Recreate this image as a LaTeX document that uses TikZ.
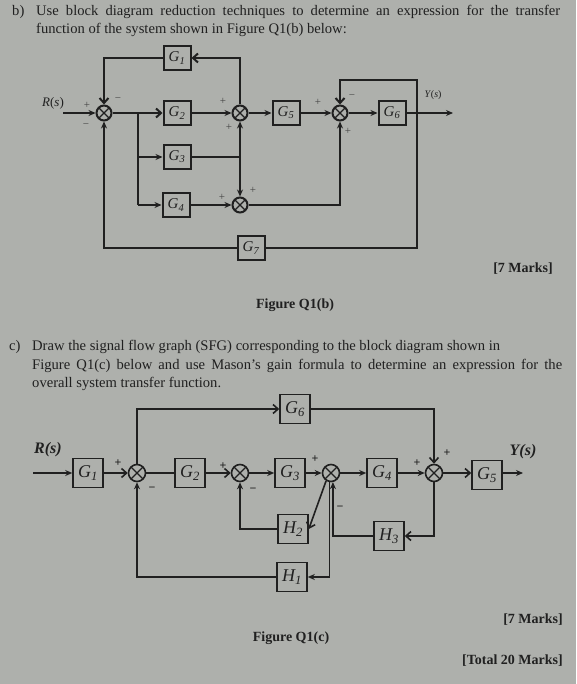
\documentclass[tikz,border=0pt]{standalone}
\usepackage{fontspec}
\setmainfont{Liberation Serif}
\usetikzlibrary{arrows.meta,calc}
\definecolor{bg}{RGB}{174,176,172}
\definecolor{ink}{RGB}{32,32,32}
\begin{document}
\begin{tikzpicture}[x=1pt,y=-1pt,
  txt/.style={font=\fontsize{14.6}{17}\selectfont, text=ink, inner sep=0pt},
  btxt/.style={font=\fontsize{14}{16}\selectfont\bfseries, text=ink, inner sep=0pt},
  blk/.style={draw=ink, line width=2pt, minimum width=27pt, minimum height=24pt, inner sep=0pt,
    font=\fontsize{15}{15}\selectfont\itshape, text=ink},
  blkc/.style={blk, line width=1.6pt, minimum width=30pt, minimum height=29pt,
    font=\fontsize{18}{18}\selectfont\itshape},
  sumj/.style={circle, draw=ink, line width=2pt, minimum size=15pt, inner sep=0pt,
    path picture={\draw[ink, line width=1.2pt] (path picture bounding box.north west) -- (path picture bounding box.south east)
      (path picture bounding box.north east) -- (path picture bounding box.south west);}},
  sumc/.style={sumj, line width=1.6pt, minimum size=17pt},
  wire/.style={draw=ink, line width=2pt},
  wirec/.style={draw=ink, line width=1.6pt},
  arr/.style={-{Stealth[length=7pt,width=6pt]}},
  barb/.style={-{Straight Barb[length=5pt,width=9pt]}},
  sg/.style={font=\fontsize{11}{11}\selectfont, text=ink!85, inner sep=0pt},
  sgc/.style={font=\fontsize{12}{12}\selectfont\bfseries, text=ink, inner sep=0pt}]
\useasboundingbox[fill=bg] (0,0) rectangle (576,684);

% ---------- text of part b
\node[txt, anchor=base west] (tb0) at (12,16) {b)};
\node[txt, anchor=base west] (tb1) at (36,16) {\makebox[524pt][s]{Use block diagram reduction techniques to determine an expression for the transfer}};
\node[txt, anchor=base west] (tb2) at (36,34) {function of the system shown in Figure Q1(b) below:};

% ---------- Figure Q1(b)
\node[sumj] (b1) at (104,113) {};
\node[sumj] (b2) at (240,113) {};
\node[sumj] (b3) at (240,205) {};
\node[sumj] (b4) at (340,113) {};
\node[blk] (bg1) at (177,58) {G\textsubscript{1}};
\node[blk] (bg2) at (177,113) {G\textsubscript{2}};
\node[blk] (bg3) at (177,157) {G\textsubscript{3}};
\node[blk] (bg4) at (176,205) {G\textsubscript{4}};
\node[blk] (bg5) at (286,113) {G\textsubscript{5}};
\node[blk] (bg6) at (392,113) {G\textsubscript{6}};
\node[blk] (bg7) at (251,248) {G\textsubscript{7}};
\coordinate (bin) at (63,113);
\coordinate (bp1) at (138,113);
\coordinate (bp2) at (138,157);
\coordinate (bp4) at (138,205);
\coordinate (bp3) at (240,157);
\coordinate (bp6) at (417,113);
\coordinate (btop) at (417,80);
\coordinate (bbot) at (417,248);
\coordinate (bout) at (453,113);

\draw[wire,arr] (bin) -- (b1);
\draw[wire] (b1) -- (bp1);
\draw[wire,barb] (bp1) -- (bg2);
\draw[wire] (bp1) -- (bp4);
\draw[wire,arr] (bp2) -- (bg3);
\draw[wire,arr] (bp4) -- (bg4);
\draw[wire,arr] (bg2) -- (b2);
\draw[wire] (bg3) -- (bp3);
\draw[wire,arr] (bp3) -- (b2);
\draw[wire,arr] (bp3) -- (b3);
\draw[wire,arr] (bg4) -- (b3);
\draw[wire,arr] (b2) -- (bg5);
\draw[wire,barb] (b2) |- (bg1);
\draw[wire,barb] (bg1) -| (b1);
\draw[wire,arr] (bg5) -- (b4);
\draw[wire,arr] (b4) -- (bg6);
\draw[wire,arr] (bg6) -- (bout);
\draw[wire,barb] (bp6) -- (btop) -| (b4);
\draw[wire] (bp6) -- (bbot) -- (bg7);
\draw[wire,arr] (bg7) -| (b1);
\draw[wire,arr] (b3) -| (b4);

\node[font=\fontsize{13}{13}\selectfont, text=ink] (bR) at (53,103) {\textit{R}(\textit{s})};
\node[font=\fontsize{10}{10}\selectfont, text=ink] (bY) at (433,95) {\textit{Y}(\textit{s})};
\node[sg] (s1a) at (87,105) {+};
\node[sg] (s1b) at (86,126) {−};
\node[sg] (s1c) at (118,100) {−};
\node[sg] (s2a) at (223,101) {+};
\node[sg] (s2b) at (229,127) {+};
\node[sg] (s3a) at (253,190) {+};
\node[sg] (s3b) at (222,197) {+};
\node[sg] (s4a) at (318,102) {+};
\node[sg] (s4b) at (352,97) {−};
\node[sg] (s4c) at (348,131) {+};

\node[btxt, anchor=base east] (bm) at (553,272) {[7 Marks]};
\node[btxt, anchor=base] (bf) at (295,308) {Figure Q1(b)};

% ---------- text of part c
\node[txt, anchor=base west] (tc0) at (9,350) {c)};
\node[txt, anchor=base west] (tc1) at (32,350) {Draw the signal flow graph (SFG) corresponding to the block diagram shown in};
\node[txt, anchor=base west] (tc2) at (32,369) {\makebox[530pt][s]{Figure Q1(c) below and use Mason’s gain formula to determine an expression for the}};
\node[txt, anchor=base west] (tc3) at (32,387) {overall system transfer function.};

% ---------- Figure Q1(c)
\node[sumc] (cA) at (137,473) {};
\node[sumc] (cB) at (240,473) {};
\node[sumc] (cC) at (331,473) {};
\node[sumc] (cD) at (434,473) {};
\node[blkc] (cg1) at (88,473) {G\textsubscript{1}};
\node[blkc] (cg2) at (190,473) {G\textsubscript{2}};
\node[blkc] (cg3) at (290,473) {G\textsubscript{3}};
\node[blkc] (cg4) at (382,473) {G\textsubscript{4}};
\node[blkc] (cg5) at (487,475) {G\textsubscript{5}};
\node[blkc] (cg6) at (295,409) {G\textsubscript{6}};
\node[blkc] (ch2) at (293,529) {H\textsubscript{2}};
\node[blkc] (ch1) at (292,577) {H\textsubscript{1}};
\node[blkc] (ch3) at (389,536) {H\textsubscript{3}};
\coordinate (cin) at (33,473);
\coordinate (cout) at (523,473);

\draw[wirec,arr] (cin) -- (cg1);
\draw[wirec,barb] (cg1) -- (cA);
\draw[wirec] (cA) -- (cg2);
\draw[wirec,barb] (cg2) -- (cB);
\draw[wirec,arr] (cB) -- (cg3);
\draw[wirec,arr] (cg3) -- (cC);
\draw[wirec,arr] (cC) -- (cg4);
\draw[wirec,arr] (cg4) -- (cD);
\draw[wirec,barb] (cD) -- (cg5.west|-cD);
\draw[wirec,arr] (cg5.east|-cD) -- (cout);
\draw[wirec,barb] (cA) |- (cg6);
\draw[wirec,barb] (cg6) -| (cD);
\draw[wirec,barb] (cD) |- (ch3);
\draw[wirec,arr] (ch3) -| (cC.-78);
\draw[wirec,arr] (cC.-100) |- (ch1);
\draw[wirec,barb] (cC.-122) -- (ch2.east);
\draw[wirec,arr] (ch2) -| (cB);
\draw[wirec,arr] (ch1) -| (cA);

\node[font=\fontsize{16}{16}\selectfont\itshape\bfseries, text=ink] (cR) at (48,450) {R(s)};
\node[font=\fontsize{16}{16}\selectfont\itshape\bfseries, text=ink] (cY) at (523,452) {Y(s)};
\node[sgc] (cs1) at (118,463) {+};
\node[sgc] (cs2) at (152,489) {−};
\node[sgc] (cs3) at (223,466) {+};
\node[sgc] (cs4) at (253,490) {−};
\node[sgc] (cs5) at (315,459) {+};
\node[sgc] (cs6) at (340,508) {−};
\node[sgc] (cs7) at (417,463) {+};
\node[sgc] (cs8) at (447,453) {+};

\node[btxt, anchor=base east] (cm) at (563,623) {[7 Marks]};
\node[btxt, anchor=base] (cf) at (291,641) {Figure Q1(c)};
\node[btxt, anchor=base east] (ct) at (563,664) {[Total 20 Marks]};
\end{tikzpicture}
\end{document}
